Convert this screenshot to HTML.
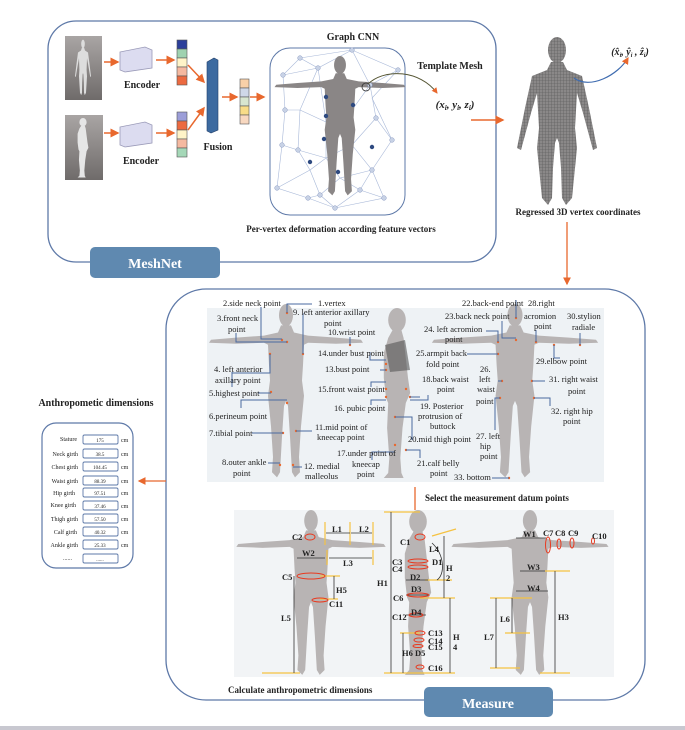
<!DOCTYPE html>
<html><head><meta charset="utf-8"><style>
html,body{margin:0;padding:0;background:#fff}
svg{display:block}
text{font-family:"Liberation Serif",serif;fill:#222}
.b{font-weight:bold}
.s{font-size:8.5px}
.t{font-size:6px}
.m{font-size:9px;font-weight:bold}
</style></head><body>
<svg width="685" height="730" viewBox="0 0 685 730" xmlns="http://www.w3.org/2000/svg">
<defs>
<g id="fr">
<ellipse cx="0" cy="11" rx="7" ry="11"/>
<path d="M-5,21 L-8,28 L-22,31 L-50,33 L-75,35 L-77,38 L-50,39 L-22,38 L-18,40 L-17,60 L-16,75 L-18,90 L-15,120 L-13,150 L-14,165 L-9,170 L-6,165 L-4,130 L-2,100 L0,95 L2,100 L4,130 L6,165 L9,170 L14,165 L13,150 L15,120 L18,90 L16,75 L17,60 L18,40 L22,38 L50,39 L77,38 L75,35 L50,33 L22,31 L8,28 L5,21 Z"/>
</g>
<g id="sd">
<ellipse cx="0" cy="12" rx="8" ry="12"/>
<path d="M-4,22 L-8,30 L-12,45 L-12,70 L-10,90 L-8,95 L-9,120 L-7,150 L-8,165 L-12,170 L6,170 L4,165 L3,150 L5,120 L8,95 L12,85 L10,70 L8,50 L6,30 L4,22 Z"/>
</g>
<g id="ap">
<ellipse cx="0" cy="12" rx="9" ry="13"/>
<path d="M-6,24 L-10,32 L-25,38 L-32,70 L-40,110 L-36,112 L-26,75 L-20,55 L-18,90 L-20,110 L-17,140 L-15,160 L-9,167 L-5,160 L-4,130 L-2,105 L0,100 L2,105 L4,130 L5,160 L9,167 L15,160 L17,140 L20,110 L18,90 L20,55 L26,75 L36,112 L40,110 L32,70 L25,38 L10,32 L6,24 Z"/>
</g>
<linearGradient id="ph" x1="0" y1="0" x2="0" y2="1"><stop offset="0" stop-color="#a9a5a4"/><stop offset="1" stop-color="#6f6b6a"/></linearGradient>
<pattern id="gr" width="3" height="3" patternUnits="userSpaceOnUse"><rect width="3" height="3" fill="#8a8888"/><path d="M0,0H3M0,0V3" stroke="#555" stroke-width="0.6"/></pattern>
<marker id="ao" markerWidth="6" markerHeight="6" refX="5" refY="3" orient="auto"><path d="M0,0 L6,3 L0,6 Z" fill="#e8682e"/></marker>
</defs>

<!-- ============ TOP PANEL ============ -->
<rect x="48" y="21" width="448" height="241" rx="28" fill="none" stroke="#5e79a8" stroke-width="1.3"/>
<rect x="90" y="247" width="130" height="31" rx="5" fill="#5f89b0"/>
<text x="155" y="268" text-anchor="middle" style="font-size:14px;font-weight:bold;fill:#fff">MeshNet</text>

<!-- photos -->
<rect x="65" y="36" width="37" height="64" fill="url(#ph)"/>
<g fill="#ddd" transform="translate(83,40) scale(0.2,0.33)"><use href="#ap"/></g>
<rect x="65" y="115" width="38" height="65" fill="url(#ph)"/>
<g fill="#e6e6e6" transform="translate(83,118) scale(0.45,0.35)"><use href="#sd"/></g>

<!-- encoders -->
<g fill="#dcdcf0" stroke="#9a9ab8" stroke-width="0.8">
<path d="M120,52 L145,47 L152,50 L152,68 L125,72 L120,70 Z"/>
<path d="M120,127 L145,122 L152,125 L152,143 L125,147 L120,145 Z"/>
</g>
<text x="142" y="88" text-anchor="middle" class="m" style="font-size:10px">Encoder</text>
<text x="141" y="164" text-anchor="middle" class="m" style="font-size:10px">Encoder</text>
<g stroke="#e8682e" stroke-width="1.5" marker-end="url(#ao)">
<line x1="104" y1="62" x2="118" y2="62"/><line x1="104" y1="133" x2="118" y2="133"/>
<line x1="156" y1="60" x2="174" y2="60"/><line x1="156" y1="133" x2="174" y2="133"/>
<line x1="188" y1="65" x2="204" y2="82"/><line x1="188" y1="130" x2="204" y2="108"/>
<line x1="222" y1="97" x2="237" y2="97"/><line x1="250" y1="97" x2="264" y2="97"/>
</g>
<!-- vectors -->
<g stroke="#555" stroke-width="0.6">
<rect x="177" y="40" width="10" height="9" fill="#2c3f9a"/><rect x="177" y="49" width="10" height="9" fill="#9fd2b0"/><rect x="177" y="58" width="10" height="9" fill="#fff4c8"/><rect x="177" y="67" width="10" height="9" fill="#f5b9a0"/><rect x="177" y="76" width="10" height="9" fill="#ec6a40"/>
<rect x="177" y="112" width="10" height="9" fill="#9c9ed8"/><rect x="177" y="121" width="10" height="9" fill="#ec6a40"/><rect x="177" y="130" width="10" height="9" fill="#fff4c8"/><rect x="177" y="139" width="10" height="9" fill="#f5b9a0"/><rect x="177" y="148" width="10" height="9" fill="#a5d8b8"/>
<rect x="240" y="79" width="9" height="9" fill="#f8d0a8"/><rect x="240" y="88" width="9" height="9" fill="#cfd8e8"/><rect x="240" y="97" width="9" height="9" fill="#d8e6d0"/><rect x="240" y="106" width="9" height="9" fill="#f8dc88"/><rect x="240" y="115" width="9" height="9" fill="#f8d8c0"/>
</g>
<path d="M207,62 L214,58 L218,60 L218,130 L211,133 L207,131 Z" fill="#3c6aa0" stroke="#24406a" stroke-width="0.6"/>
<text x="218" y="150" text-anchor="middle" class="m" style="font-size:10px">Fusion</text>

<!-- graph cnn -->
<text x="353" y="40" text-anchor="middle" class="m" style="font-size:10px">Graph CNN</text>
<rect x="270" y="48" width="135" height="167" rx="20" fill="#fff" stroke="#5e79a8" stroke-width="1"/>
<g stroke="#a8b8d8" stroke-width="0.6" fill="none">
<path d="M300,58 L352,50 L398,70 L372,98 L392,140 L372,170 L384,198 L335,208 L308,198 L277,188 L282,145 L285,110 L283,75 Z"/>
<path d="M300,58 L318,68 L352,50 L370,85 L398,70 M283,75 L318,68 L300,110 L285,110 M300,110 L326,122 L318,68 M326,122 L352,110 L370,85 L376,118 L392,140 M300,110 L298,150 L282,145 M298,150 L326,158 L326,122 M326,158 L352,145 L352,110 M352,145 L376,118 M352,145 L372,170 L340,178 L326,158 L310,170 L298,150 M310,170 L277,188 M310,170 L320,195 L340,178 L360,190 L372,170 M320,195 L308,198 M360,190 L384,198 M320,195 L335,208 L360,190"/>
</g>
<g transform="translate(340,56) scale(0.85,0.82)" fill="#8a8686"><use href="#fr"/></g>
<g fill="#c8d2e6" stroke="#8898c0" stroke-width="0.5">
<circle cx="300" cy="58" r="2.3"/><circle cx="352" cy="50" r="2.3"/><circle cx="398" cy="70" r="2.3"/><circle cx="283" cy="75" r="2.3"/><circle cx="318" cy="68" r="2.3"/><circle cx="370" cy="85" r="2.3"/><circle cx="285" cy="110" r="2.3"/><circle cx="376" cy="118" r="2.3"/><circle cx="392" cy="140" r="2.3"/><circle cx="282" cy="145" r="2.3"/><circle cx="298" cy="150" r="2.3"/><circle cx="372" cy="170" r="2.3"/><circle cx="277" cy="188" r="2.3"/><circle cx="384" cy="198" r="2.3"/><circle cx="308" cy="198" r="2.3"/><circle cx="335" cy="208" r="2.3"/><circle cx="320" cy="195" r="2.3"/><circle cx="360" cy="190" r="2.3"/>
</g>
<g fill="#2e4a80"><circle cx="326" cy="97" r="2.2"/><circle cx="353" cy="105" r="2.2"/><circle cx="326" cy="116" r="2.2"/><circle cx="324" cy="139" r="2.2"/><circle cx="372" cy="147" r="2.2"/><circle cx="310" cy="162" r="2.2"/><circle cx="338" cy="172" r="2.2"/></g>
<circle cx="366" cy="87" r="4" fill="none" stroke="#333" stroke-width="0.8"/>
<path d="M368,84 C385,68 420,70 437,93" fill="none" stroke="#553" stroke-width="1" marker-end="url(#ao)"/>
<text x="450" y="69" text-anchor="middle" class="m" style="font-size:10px">Template Mesh</text>
<text x="455" y="108" text-anchor="middle" class="b" style="font-size:11px;font-style:italic">(x<tspan font-size="7" dy="2">i</tspan><tspan dy="-2">, y</tspan><tspan font-size="7" dy="2">i</tspan><tspan dy="-2">, z</tspan><tspan font-size="7" dy="2">i</tspan><tspan dy="-2">)</tspan></text>
<text x="341" y="232" text-anchor="middle" class="m">Per-vertex deformation according feature vectors</text>
<line x1="471" y1="120" x2="503" y2="120" stroke="#e8682e" stroke-width="1.5" marker-end="url(#ao)"/>

<!-- regressed mesh -->
<g transform="translate(557,38)" fill="url(#gr)"><use href="#ap"/></g>
<path d="M574,78 C590,90 618,75 628,58" fill="none" stroke="#3f6cb0" stroke-width="1.2" marker-end="url(#ao)"/>
<text x="630" y="55" text-anchor="middle" class="b" style="font-size:10px;font-style:italic">(x̂<tspan font-size="6" dy="2">i</tspan><tspan dy="-2">, ŷ</tspan><tspan font-size="6" dy="2">i</tspan><tspan dy="-2"> , ẑ</tspan><tspan font-size="6" dy="2">i</tspan><tspan dy="-2">)</tspan></text>
<text x="578" y="215" text-anchor="middle" class="m">Regressed 3D vertex coordinates</text>
<line x1="567" y1="222" x2="567" y2="284" stroke="#e8682e" stroke-width="1.3" marker-end="url(#ao)"/>

<!-- ============ BOTTOM PANEL ============ -->
<rect x="166" y="289" width="479" height="411" rx="40" fill="none" stroke="#5e79a8" stroke-width="1.3"/>
<rect x="424" y="687" width="129" height="30" rx="5" fill="#5f89b0"/>
<text x="488" y="708" text-anchor="middle" style="font-size:14px;font-weight:bold;fill:#fff">Measure</text>

<!-- datum image -->
<rect x="207" y="308" width="397" height="174" fill="#eef2f5"/>
<g fill="#b8b4b4">
<g transform="translate(286,304) scale(1,1.02)"><use href="#fr"/></g>
<g transform="translate(397,308) scale(1.1,1)"><use href="#sd"/></g>
<g transform="translate(515,304) scale(1.08,1.02)"><use href="#fr"/></g>
</g>
<path d="M385,345 L405,340 L410,370 L390,372 Z" fill="#555" opacity="0.6"/>
<g fill="#e8682e"><circle cx="287" cy="313" r="1.2"/><circle cx="282" cy="340" r="1.2"/><circle cx="287" cy="342" r="1.2"/><circle cx="270" cy="354" r="1.2"/><circle cx="303" cy="354" r="1.2"/><circle cx="350" cy="345" r="1.2"/><circle cx="271" cy="392" r="1.2"/><circle cx="287" cy="403" r="1.2"/><circle cx="283" cy="433" r="1.2"/><circle cx="296" cy="431" r="1.2"/><circle cx="280" cy="465" r="1.2"/><circle cx="293" cy="465" r="1.2"/><circle cx="386" cy="364" r="1.2"/><circle cx="386" cy="370" r="1.2"/><circle cx="386" cy="389" r="1.2"/><circle cx="386" cy="397" r="1.2"/><circle cx="410" cy="397" r="1.2"/><circle cx="395" cy="417" r="1.2"/><circle cx="406" cy="389" r="1.2"/><circle cx="395" cy="445" r="1.2"/><circle cx="406" cy="450" r="1.2"/><circle cx="516" cy="318" r="1.2"/><circle cx="516" cy="340" r="1.2"/><circle cx="498" cy="342" r="1.2"/><circle cx="536" cy="342" r="1.2"/><circle cx="498" cy="354" r="1.2"/><circle cx="554" cy="345" r="1.2"/><circle cx="580" cy="345" r="1.2"/><circle cx="502" cy="381" r="1.2"/><circle cx="532" cy="381" r="1.2"/><circle cx="500" cy="398" r="1.2"/><circle cx="534" cy="398" r="1.2"/><circle cx="509" cy="478" r="1.2"/></g>
<g stroke="#4a6aa0" stroke-width="1" fill="none">
<path d="M261,307 V339 H282"/><path d="M287,313 V304 H312"/><path d="M236,333 V342 H287"/><path d="M303,354 V313"/><path d="M350,345 V337"/><path d="M232,387 V372"/><path d="M232,376 V373 H270 V354"/><path d="M258,393 H271"/><path d="M241,408 V400 H287"/><path d="M252,433 H283"/><path d="M296,431 H312"/><path d="M268,463 H280 M293,467 H302"/><path d="M370,352 V360 H386"/><path d="M380,370 H386"/><path d="M371,387 V382 H386"/><path d="M371,405 V400 H386"/><path d="M410,397 H420"/><path d="M428,395 V400 H410"/><path d="M395,417 H412 V440"/><path d="M372,460 V452 H395"/><path d="M406,450 H420 V458"/><path d="M516,318 V300"/><path d="M502,321 V338 H516"/><path d="M486,331 H498 V342"/><path d="M467,354 H498"/><path d="M536,342 V330"/><path d="M554,345 V358 H560"/><path d="M580,345 V333"/><path d="M498,381 H502"/><path d="M532,381 H545"/><path d="M534,398 H550 V406"/><path d="M500,398 H495 V430"/><path d="M492,478 H509"/>
</g>
<g class="s">
<text x="223" y="306" class="s">2.side neck point</text><text x="318" y="306" class="s">1.vertex</text>
<text x="293" y="315" class="s">9. left anterior axillary</text><text x="324" y="326" class="s">point</text>
<text x="217" y="321" class="s">3.front neck</text><text x="228" y="332" class="s">point</text>
<text x="328" y="335" class="s">10.wrist point</text><text x="318" y="356" class="s">14.under bust point</text>
<text x="325" y="372" class="s">13.bust point</text>
<text x="214" y="372" class="s">4. left anterior</text><text x="215" y="383" class="s">axillary point</text>
<text x="209" y="396" class="s">5.highest point</text><text x="318" y="392" class="s">15.front waist point</text>
<text x="334" y="411" class="s">16. pubic point</text><text x="209" y="419" class="s">6.perineum point</text>
<text x="209" y="436" class="s">7.tibial point</text>
<text x="315" y="430" class="s">11.mid point of</text><text x="317" y="440" class="s">kneecap point</text>
<text x="222" y="465" class="s">8.outer ankle</text><text x="233" y="476" class="s">point</text>
<text x="304" y="469" class="s">12. medial</text><text x="305" y="479" class="s">malleolus</text>
<text x="337" y="456" class="s">17.under point of</text><text x="352" y="467" class="s">kneecap</text><text x="357" y="477" class="s">point</text>
<text x="422" y="382" class="s">18.back waist</text><text x="437" y="392" class="s">point</text>
<text x="420" y="409" class="s">19. Posterior</text><text x="418" y="419" class="s">protrusion of</text><text x="430" y="429" class="s">buttock</text>
<text x="408" y="442" class="s">20.mid thigh point</text>
<text x="417" y="466" class="s">21.calf belly</text><text x="430" y="476" class="s">point</text>
<text x="462" y="306" class="s">22.back-end point</text><text x="528" y="306" class="s">28.right</text>
<text x="524" y="319" class="s">acromion</text><text x="534" y="329" class="s">point</text>
<text x="445" y="319" class="s">23.back neck point</text>
<text x="567" y="319" class="s">30.stylion</text><text x="572" y="330" class="s">radiale</text>
<text x="424" y="332" class="s">24. left acromion</text><text x="445" y="342" class="s">point</text>
<text x="416" y="356" class="s">25.armpit back</text><text x="426" y="367" class="s">fold point</text>
<text x="536" y="364" class="s">29.elbow point</text>
<text x="480" y="372" class="s">26.</text><text x="479" y="382" class="s">left</text><text x="477" y="392" class="s">waist</text><text x="476" y="404" class="s">point</text>
<text x="549" y="382" class="s">31. right waist</text><text x="568" y="394" class="s">point</text>
<text x="551" y="414" class="s">32. right hip</text><text x="563" y="424" class="s">point</text>
<text x="476" y="439" class="s">27. left</text><text x="480" y="449" class="s">hip</text><text x="480" y="459" class="s">point</text>
<text x="454" y="480" class="s">33. bottom</text>
</g>

<line x1="415" y1="487" x2="415" y2="511" stroke="#e8682e" stroke-width="1.3"/>
<text x="425" y="501" class="m">Select the measurement datum points</text>

<!-- measure image -->
<rect x="234" y="510" width="380" height="167" fill="#f2f4f6"/>
<g fill="#b8b4b4">
<g transform="translate(311,510) scale(0.97,0.97)"><use href="#fr"/></g>
<g transform="translate(418,510) scale(1.1,0.97)"><use href="#sd"/></g>
<g transform="translate(530,510) scale(1.02,0.97)"><use href="#fr"/></g>
</g>
<g stroke="#f5c242" stroke-width="1.2">
<line x1="325" y1="522" x2="325" y2="545"/><line x1="350" y1="522" x2="350" y2="545"/><line x1="373" y1="522" x2="373" y2="545"/>
<line x1="327" y1="550" x2="327" y2="565"/><line x1="373" y1="550" x2="373" y2="565"/>
<line x1="320" y1="576" x2="340" y2="576"/><line x1="320" y1="599" x2="338" y2="599"/><line x1="262" y1="673" x2="300" y2="673"/>
<line x1="384" y1="512" x2="420" y2="512"/><line x1="384" y1="673" x2="455" y2="673"/><line x1="432" y1="536" x2="456" y2="529"/><line x1="425" y1="580" x2="452" y2="580"/><line x1="420" y1="598" x2="455" y2="598"/><line x1="400" y1="633" x2="420" y2="633"/>
<line x1="545" y1="571" x2="570" y2="571"/><line x1="540" y1="673" x2="570" y2="673"/><line x1="490" y1="598" x2="532" y2="598"/><line x1="505" y1="633" x2="530" y2="633"/><line x1="490" y1="668" x2="520" y2="668"/>
</g>
<g stroke="#333" stroke-width="0.8">
<line x1="326" y1="533" x2="350" y2="533"/><line x1="351" y1="533" x2="372" y2="533"/><line x1="329" y1="558" x2="372" y2="558"/><line x1="297" y1="558" x2="325" y2="558"/>
<line x1="334" y1="576" x2="334" y2="599"/><line x1="294" y1="576" x2="294" y2="673"/>
<line x1="391" y1="512" x2="391" y2="673"/><line x1="444" y1="536" x2="444" y2="598"/><line x1="450" y1="598" x2="450" y2="673"/><line x1="403" y1="633" x2="403" y2="673"/>
<path d="M432,543 C445,555 445,575 437,580" fill="none"/>
<line x1="406" y1="580" x2="428" y2="580"/><line x1="406" y1="595" x2="428" y2="595"/><line x1="406" y1="615" x2="426" y2="615"/>
<line x1="516" y1="538" x2="546" y2="538"/><line x1="520" y1="571" x2="545" y2="571"/><line x1="516" y1="591" x2="548" y2="591"/>
<line x1="555" y1="571" x2="555" y2="673"/><line x1="512" y1="598" x2="512" y2="633"/><line x1="496" y1="598" x2="496" y2="668"/>
</g>
<g fill="none" stroke="#e83a20" stroke-width="1">
<ellipse cx="310" cy="537" rx="5" ry="3"/><ellipse cx="311" cy="576" rx="14" ry="3"/><ellipse cx="320" cy="600" rx="8" ry="2"/>
<ellipse cx="420" cy="537" rx="5" ry="3"/><ellipse cx="418" cy="561" rx="10" ry="2"/><ellipse cx="418" cy="567" rx="10" ry="2"/><ellipse cx="418" cy="595" rx="11" ry="2"/><ellipse cx="416" cy="615" rx="7" ry="2"/><ellipse cx="420" cy="633" rx="5" ry="2"/><ellipse cx="419" cy="640" rx="5" ry="2"/><ellipse cx="418" cy="646" rx="5" ry="1.5"/><ellipse cx="420" cy="667" rx="4" ry="2"/>
<ellipse cx="548" cy="545" rx="2.5" ry="8"/><ellipse cx="559" cy="544" rx="2" ry="5"/><ellipse cx="572" cy="543" rx="2" ry="5"/><ellipse cx="593" cy="541" rx="1.5" ry="3"/>
</g>
<g class="m" style="font-size:8.5px">
<text x="292" y="540">C2</text><text x="332" y="532">L1</text><text x="359" y="532">L2</text><text x="302" y="556">W2</text><text x="343" y="566">L3</text><text x="282" y="580">C5</text><text x="336" y="593">H5</text><text x="329" y="607">C11</text><text x="281" y="621">L5</text>
<text x="400" y="545">C1</text><text x="429" y="552">L4</text><text x="392" y="565">C3</text><text x="432" y="565">D1</text><text x="392" y="572">C4</text><text x="446" y="571">H</text><text x="446" y="581">2</text><text x="410" y="580">D2</text><text x="377" y="586">H1</text><text x="411" y="592">D3</text><text x="393" y="601">C6</text><text x="411" y="615">D4</text><text x="392" y="620">C12</text><text x="428" y="636">C13</text><text x="428" y="644">C14</text><text x="453" y="640">H</text><text x="453" y="650">4</text><text x="428" y="650">C15</text><text x="402" y="656">H6</text><text x="415" y="656">D5</text><text x="428" y="671">C16</text>
<text x="523" y="537">W1</text><text x="543" y="536">C7</text><text x="555" y="536">C8</text><text x="568" y="536">C9</text><text x="592" y="539">C10</text><text x="527" y="570">W3</text><text x="527" y="591">W4</text><text x="500" y="622">L6</text><text x="558" y="620">H3</text><text x="484" y="640">L7</text>
</g>
<text x="228" y="693" class="m">Calculate anthropometric dimensions</text>

<!-- anthropometric table -->
<text x="96" y="406" text-anchor="middle" class="m" style="font-size:10px">Anthropometic dimensions</text>
<line x1="166" y1="481" x2="139" y2="481" stroke="#e8682e" stroke-width="1.3" marker-end="url(#ao)"/>
<rect x="42" y="423" width="91" height="145" rx="14" fill="#fff" stroke="#5e79a8" stroke-width="1.2"/>
<g class="t" text-anchor="end">
<text x="77" y="441">Stature</text><text x="78" y="456">Neck girth</text><text x="78" y="469">Chest girth</text><text x="78" y="483">Waist girth</text><text x="75" y="495">Hip girth</text><text x="76" y="507">Knee girth</text><text x="78" y="521">Thigh girth</text><text x="77" y="534">Calf girth</text><text x="78" y="547">Ankle girth</text><text x="72" y="560">......</text>
</g>
<g fill="#fff" stroke="#5e79a8" stroke-width="0.9">
<rect x="83" y="435" width="35" height="9" rx="1.5"/><rect x="83" y="449" width="35" height="9" rx="1.5"/><rect x="83" y="462" width="35" height="9" rx="1.5"/><rect x="83" y="476" width="35" height="9" rx="1.5"/><rect x="83" y="488" width="35" height="9" rx="1.5"/><rect x="83" y="501" width="35" height="9" rx="1.5"/><rect x="83" y="514" width="35" height="9" rx="1.5"/><rect x="83" y="527" width="35" height="9" rx="1.5"/><rect x="83" y="540" width="35" height="9" rx="1.5"/><rect x="83" y="554" width="35" height="9" rx="1.5"/>
</g>
<g class="t" text-anchor="middle" style="font-size:5px">
<text x="100" y="442">175</text><text x="100" y="456">38.5</text><text x="100" y="469">104.45</text><text x="100" y="483">88.39</text><text x="100" y="495">97.51</text><text x="100" y="508">37.46</text><text x="100" y="521">57.50</text><text x="100" y="534">40.32</text><text x="100" y="547">25.33</text><text x="100" y="561">......</text>
</g>
<g class="t"><text x="121" y="442">cm</text><text x="121" y="456">cm</text><text x="121" y="469">cm</text><text x="121" y="483">cm</text><text x="121" y="495">cm</text><text x="121" y="508">cm</text><text x="121" y="521">cm</text><text x="121" y="534">cm</text><text x="121" y="547">cm</text></g>
<rect x="0" y="726" width="685" height="4" fill="#c8c8d0"/>
</svg>
</body></html>
